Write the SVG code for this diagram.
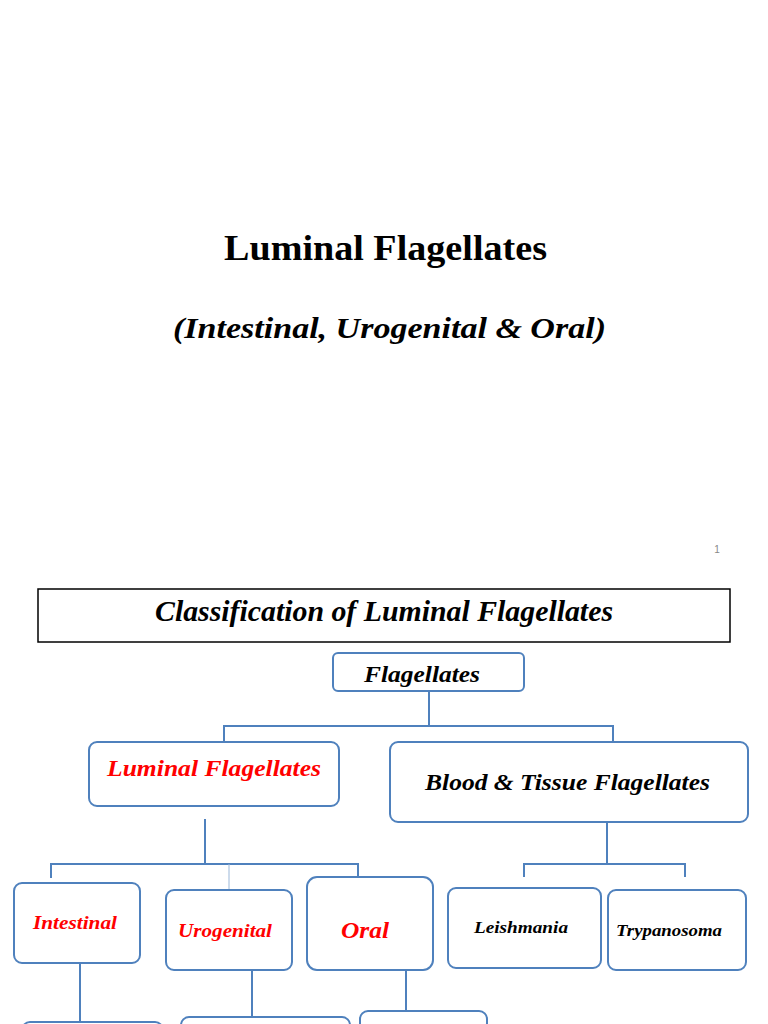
<svg xmlns="http://www.w3.org/2000/svg" width="768" height="1024" viewBox="0 0 768 1024">
<style>
.bx{fill:#fff;stroke:#4f81bd;stroke-width:2}
.ln{stroke:#4f81bd;stroke-width:2;fill:none}
.t{font-family:"Liberation Serif","Times New Roman",serif;font-weight:bold;font-style:italic;text-anchor:middle}
.r{fill:#ff0000}
.k{fill:#000}
</style>
<rect width="768" height="1024" fill="#fff"/>
<g id="title">
<text x="385.5" y="260" font-family="Liberation Serif,serif" font-weight="bold" font-size="35" text-anchor="middle" textLength="323" lengthAdjust="spacingAndGlyphs">Luminal Flagellates</text>
<text class="t" x="389.5" y="338" font-size="29" textLength="433" lengthAdjust="spacingAndGlyphs">(Intestinal, Urogenital &amp; Oral)</text>
<text x="717" y="553" font-family="Liberation Sans,sans-serif" font-size="10" fill="#888" text-anchor="middle">1</text>
</g>
<g id="heading">
<rect x="38" y="589" width="692" height="53" fill="#fff" stroke="#000" stroke-width="1.5"/>
<text class="t" x="384" y="621" font-size="29" textLength="458" lengthAdjust="spacingAndGlyphs">Classification of Luminal Flagellates</text>
</g>
<g id="connectors">
<path class="ln" d="M429 691V726M224 742V726H613V742"/>
<path class="ln" d="M205 819V864M51 878V864H358V878"/>
<path d="M229 864V890" stroke="#9bb7d8" stroke-width="1"/>
<path class="ln" d="M607 822V864M524 877V864H685V877"/>
<path class="ln" d="M80 963V1024M252 970V1017M406 970V1012"/>
</g>
<g id="flagellates">
<rect class="bx" x="333" y="653" width="191" height="38" rx="5"/>
<text class="t k" x="422" y="682" font-size="23" textLength="116" lengthAdjust="spacingAndGlyphs">Flagellates</text>
</g>
<g id="luminal">
<rect class="bx" x="89" y="742" width="250" height="64" rx="8"/>
<text class="t r" x="214" y="776" font-size="23" textLength="214" lengthAdjust="spacingAndGlyphs">Luminal Flagellates</text>
</g>
<g id="blood">
<rect class="bx" x="390" y="742" width="358" height="80" rx="8"/>
<text class="t k" x="567.5" y="790" font-size="23" textLength="285" lengthAdjust="spacingAndGlyphs">Blood &amp; Tissue Flagellates</text>
</g>
<g id="intestinal">
<rect class="bx" x="14" y="883" width="126" height="80" rx="8"/>
<text class="t r" x="75" y="929" font-size="19" textLength="84" lengthAdjust="spacingAndGlyphs">Intestinal</text>
</g>
<g id="urogenital">
<rect class="bx" x="166" y="890" width="126" height="80" rx="8"/>
<text class="t r" x="225" y="937" font-size="19" textLength="94" lengthAdjust="spacingAndGlyphs">Urogenital</text>
</g>
<g id="oral">
<rect class="bx" x="307" y="877" width="126" height="93" rx="10"/>
<text class="t r" x="365" y="938" font-size="24" textLength="48" lengthAdjust="spacingAndGlyphs">Oral</text>
</g>
<g id="leishmania">
<rect class="bx" x="448" y="888" width="153" height="80" rx="8"/>
<text class="t k" x="521" y="933" font-size="16" textLength="94" lengthAdjust="spacingAndGlyphs">Leishmania</text>
</g>
<g id="trypanosoma">
<rect class="bx" x="608" y="890" width="138" height="80" rx="8"/>
<text class="t k" x="669" y="936" font-size="16" textLength="106" lengthAdjust="spacingAndGlyphs">Trypanosoma</text>
</g>
<g id="bottom-nodes">
<rect class="bx" x="22" y="1022" width="141" height="20" rx="8"/>
<rect class="bx" x="181" y="1017" width="169" height="20" rx="8"/>
<rect class="bx" x="360" y="1011" width="127" height="20" rx="8"/>
</g>
</svg>
